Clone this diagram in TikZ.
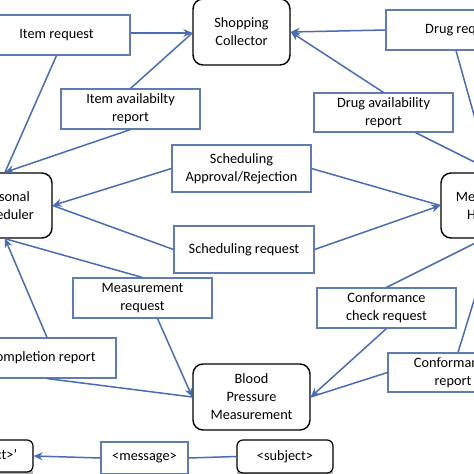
\documentclass[tikz,border=0pt]{standalone}
\usepackage{fontspec}
\setmainfont{Carlito}
\usetikzlibrary{arrows.meta}
\definecolor{arrowblue}{RGB}{74,108,178}
\definecolor{boxblue}{RGB}{96,124,176}
\tikzset{
  agent/.style={draw=black, line width=1.4pt, rounded corners=10pt, fill=white, align=center, inner sep=0pt},
  lbl/.style={draw=boxblue, line width=1.1pt, fill=white, align=center, inner sep=0pt},
  conn/.style={draw=arrowblue, line width=1.5pt},
  arr/.style={conn, -{Stealth[length=9pt,width=8pt,inset=3pt]}},
}
\begin{document}
\begin{tikzpicture}[x=1pt,y=-1pt,font=\fontsize{14.3}{18}\selectfont]
\useasboundingbox (0,0) rectangle (474,474);
% shadows
\fill[gray!55] (203,-2) rectangle (280,2);
% agents
\node[agent, minimum width=97pt, minimum height=66pt] (SC) at (241.5,32) {Shopping\\Collector};
\node[agent, minimum width=94pt, minimum height=65pt] (PS) at (5,205.5) {Personal\\Scheduler};
\node[agent, minimum width=76pt, minimum height=65pt] (MH) at (479,205.5) {Medical\\Hub};
\node[agent, minimum width=117pt, minimum height=66pt] (BP) at (251.5,397) {Blood\\Pressure\\Measurement};
% message boxes
\node[lbl, minimum width=147pt, minimum height=40pt] (itemreq) at (56.5,35) {Item request};
\node[lbl, minimum width=139pt, minimum height=40pt] (itemavail) at (130.5,109) {Item availabilty\\report};
\node[lbl, minimum width=154pt, minimum height=40pt] (drugreq) at (463,30) {Drug request};
\node[lbl, minimum width=139pt, minimum height=39pt] (drugavail) at (383.5,112.5) {Drug availability\\report};
\node[lbl, minimum width=139pt, minimum height=47pt] (schedapp) at (241.5,168.5) {Scheduling\\Approval/Rejection};
\node[lbl, minimum width=140pt, minimum height=47pt] (schedreq) at (244,249.5) {Scheduling request};
\node[lbl, minimum width=139pt, minimum height=40pt] (measreq) at (142.5,298) {Measurement\\request};
\node[lbl, minimum width=148pt, minimum height=40pt] (complrep) at (42,358) {Completion report};
\node[lbl, minimum width=139pt, minimum height=40pt] (confcheck) at (386.5,308) {Conformance\\check request};
\node[lbl, minimum width=130pt, minimum height=39pt] (confrep) at (453,372.5) {Conformance\\report};
% legend
\fill[gray!60] (-53,471) rectangle (33,475);
\fill[gray!60] (101,472) rectangle (188,475);
\fill[gray!60] (237,471) rectangle (333,475);
\node[agent, line width=1.2pt, rounded corners=6pt, minimum width=86pt, minimum height=32pt] (obj) at (-10,456) {<object>'};
\node[lbl, minimum width=87pt, minimum height=32pt] (msg) at (144.5,458) {<message>};
\node[agent, line width=1.2pt, rounded corners=6pt, minimum width=96pt, minimum height=33pt] (subj) at (285,456.5) {<subject>};
% connectors
\draw[conn] (PS.north) -- (itemreq.south);
\draw[arr] ([yshift=2pt]itemreq.east) -- ([yshift=-1pt]SC.west);
\draw[conn] ([yshift=-1pt]SC.west) -- (itemavail.north);
\draw[arr] (itemavail.south) -- (PS.north);
\draw[conn] ([xshift=11pt]MH.north) -- ([xshift=-7pt]drugreq.south);
\draw[arr] (drugreq.west) -- (SC.east);
\draw[conn] ([xshift=16pt]MH.north) -- ([xshift=32pt]drugavail.south);
\draw[arr] (drugavail.north) -- (SC.east);
\draw[conn] (MH.west) -- (schedapp.east);
\draw[arr] (schedapp.west) -- (PS.east);
\draw[conn] (PS.east) -- (schedreq.west);
\draw[arr] (schedreq.east) -- (MH.west);
\draw[conn] (PS.south) -- (measreq.north);
\draw[arr] ([xshift=15pt]measreq.south) -- (BP.west);
\draw[conn] (BP.west) -- ([xshift=5pt]complrep.south);
\draw[arr] ([xshift=5pt]complrep.north) -- (PS.south);
\draw[conn] ([xshift=5pt]MH.south) -- (confcheck.north);
\draw[arr] (confcheck.south) -- (BP.east);
\draw[conn] (BP.east) -- (confrep.west);
\draw[arr] ([xshift=5pt]confrep.north) -- ([xshift=14pt]MH.south);
\draw[conn] (subj.west) -- (msg.east);
\draw[arr] (msg.west) -- (obj.east);
\end{tikzpicture}
\end{document}
